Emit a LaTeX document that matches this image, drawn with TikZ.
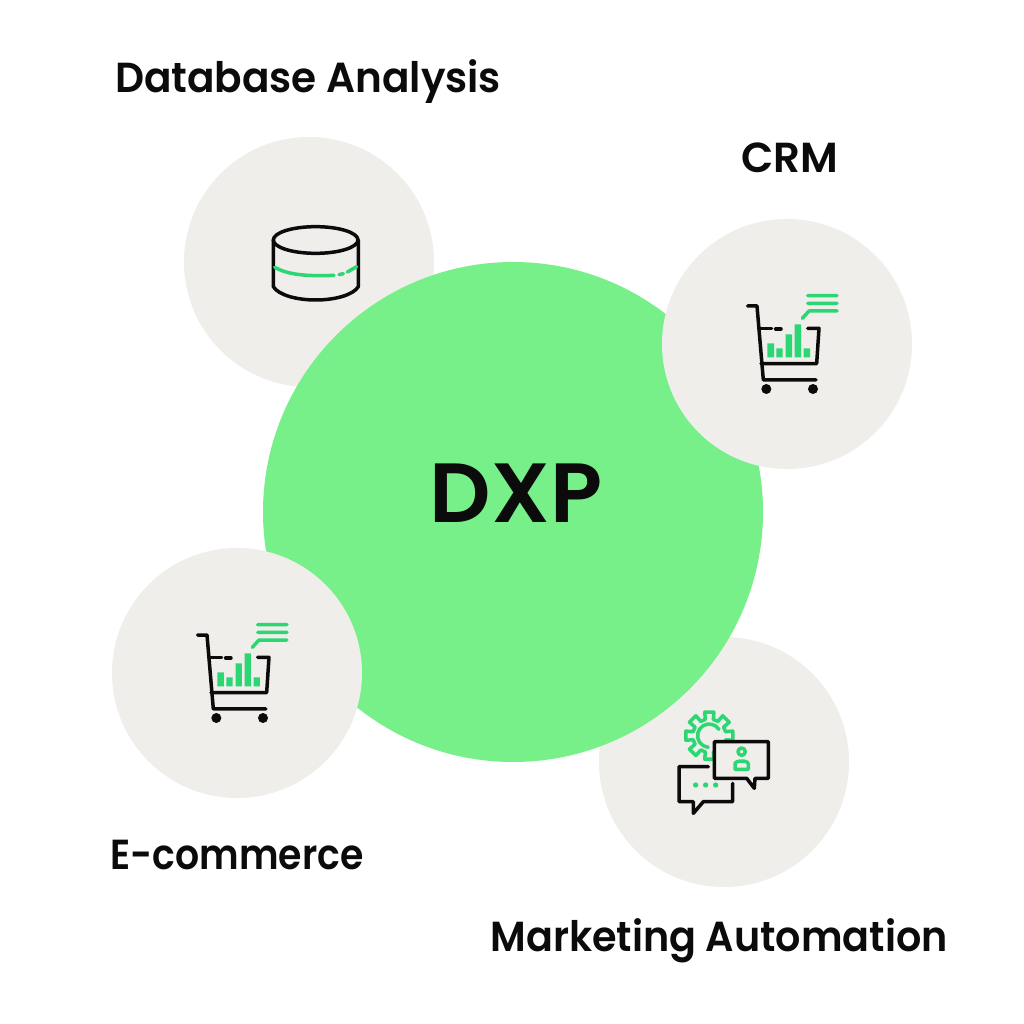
\documentclass[tikz,border=0pt]{standalone}
\usepackage{fontspec}
\usetikzlibrary{calc}
\setmainfont{Poppins SemiBold}
\definecolor{dxpgreen}{HTML}{78F08A}
\definecolor{discgrey}{HTML}{EFEEEB}
\definecolor{icongreen}{HTML}{2CD673}
\definecolor{ink}{HTML}{0B0B0B}
\tikzset{
  disc/.style={circle,fill=discgrey,minimum size=250pt,inner sep=0pt,draw=none},
  hub/.style={circle,fill=dxpgreen,minimum size=500pt,inner sep=0pt,draw=none},
  lab/.style={inner sep=0pt,anchor=base,text=ink,font=\fontsize{42}{50}\selectfont},
  inkline/.style={draw=ink,line width=3.5pt,line join=round,line cap=round},
  greenline/.style={draw=icongreen,line width=3.5pt,line join=round,line cap=round},
  pics/cart/.style={code={
    \begin{scope}[x=0.3333pt,y=-0.3333pt]
    \draw[inkline] (38,63)--(66,63)--(85,285)--(243,285);
    \draw[inkline] (75,130)--(110,130);
    \draw[inkline] (122,132)--(138,132);
    \draw[inkline] (218,130)--(252,130)--(245,236)--(78,236);
    \fill[ink] (94,312) circle (15) (234,312) circle (15);
    \fill[icongreen] (97,175) rectangle (117,217) (124,190) rectangle (143,217)
      (152,148) rectangle (171,217) (179,118) rectangle (198,217) (206,190) rectangle (225,217);
    \draw[greenline] (218,32)--(306,32) (218,55)--(306,55) (306,78)--(222,78)--(202,100);
    \end{scope}}}
}
\begin{document}
\begin{tikzpicture}[x=1pt,y=-1pt]
\useasboundingbox (0,0) rectangle (1024,1024);
\fill[white] (0,0) rectangle (1024,1024);
\node[disc] (db) at (309,262) {};
\node[disc] (ma) at (724,762) {};
\node[hub] (dxp) at (513,512) {};
\node[disc] (crm) at (787,344) {};
\node[disc] (ec) at (237,673) {};
\node[inner sep=0pt,anchor=base,text=ink,font=\fontsize{84}{90}\selectfont] (dxpl) at (516,522) {\scalebox{1.02}[1]{DXP}};
\node[lab] (l1) at (308,93) {\scalebox{0.965}[1]{Database Analysis}};
\node[lab] (l2) at (790,173) {\scalebox{1.0}[1]{CRM}};
\node[lab] (l3) at (237,869) {\scalebox{0.90}[1]{E-commerce}};
\node[lab] (l4) at (719,951) {\scalebox{0.945}[1]{Marketing Automation}};
\pic at (735,285) {cart};
\pic at (185,614) {cart};
% database
\begin{scope}[shift={(250,210)},x=0.3333pt,y=-0.3333pt]
\draw[inkline] (197,90) ellipse [x radius=127,y radius=40];
\draw[inkline] (70,90)--(70,230) .. controls (85,255) and (140,270) .. (197,270) .. controls (255,270) and (310,255) .. (325,230)--(325,90);
\draw[greenline] (74,172) .. controls (110,192) and (160,200) .. (252,196);
\draw[greenline] (267,194)--(280,191);
\draw[greenline] (292,186)--(320,170);
\end{scope}
% chat and gear
\begin{scope}[shift={(665,700)},x=0.3333pt,y=-0.3333pt]
\foreach \a in {0,45,...,270}{
  \draw[greenline] ($(133,107)+({-\a-14}:50)$) -- ($(133,107)+({-\a-11}:72)$) -- ($(133,107)+({-\a+11}:72)$) -- ($(133,107)+({-\a+14}:50)$);
}
\foreach \a in {0,45,...,225}{
  \draw[greenline] ($(133,107)+({-\a-14}:50)$) arc[start angle={-\a-14},end angle={-\a-31},radius=50];
}
\draw[greenline] (162,88) arc[start angle=-33,end angle=-265,radius=35];
\draw[inkline] (148,125)--(310,125)--(310,235)--(270,235)--(268,265)--(245,235)--(148,235)--cycle;
\draw[inkline] (130,200)--(42,200)--(42,305)--(85,305)--(85,340)--(115,305)--(203,305)--(203,250);
\fill[icongreen] (92,255) circle (8) (122,255) circle (8) (152,255) circle (8);
\draw[greenline] (230,155) circle (11);
\draw[greenline] (210,208)--(210,192) .. controls (210,180) and (250,180) .. (250,192)--(250,208)--cycle;
\end{scope}
\end{tikzpicture}
\end{document}
